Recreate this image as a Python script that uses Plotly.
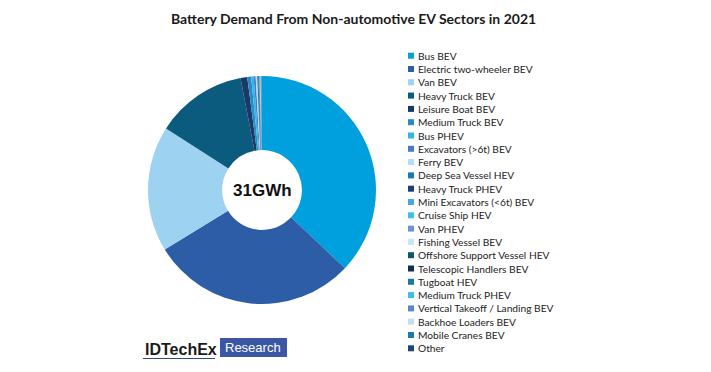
import plotly.graph_objects as go

W, H = 711, 372

labels = ["Bus BEV", "Electric two-wheeler BEV", "Van BEV", "Heavy Truck BEV", "Leisure Boat BEV",
          "Medium Truck BEV", "Bus PHEV", "Excavators (>6t) BEV", "Ferry BEV", "Deep Sea Vessel HEV",
          "Heavy Truck PHEV", "Mini Excavators (<6t) BEV", "Cruise Ship HEV", "Van PHEV",
          "Fishing Vessel BEV", "Offshore Support Vessel HEV", "Telescopic Handlers BEV", "Tugboat HEV",
          "Medium Truck PHEV", "Vertical Takeoff / Landing BEV", "Backhoe Loaders BEV",
          "Mobile Cranes BEV", "Other"]
values = [37.0, 29.2, 17.8, 12.9, 0.95, 0.55, 0.35, 0.28, 0.22, 0.16, 0.11, 0.08, 0.06, 0.05,
          0.04, 0.04, 0.03, 0.03, 0.02, 0.01, 0.01, 0.01, 0.02]
colors = ["#00A0DF", "#2D5DA6", "#9DD2F0", "#0B5B7E", "#1B3968", "#2A8BC0", "#2BB6EC", "#4A7CC6",
          "#B2DDF3", "#1A7BA9", "#203F7A", "#4AA7DD", "#3AC0F0", "#6F93D0", "#C6E5F6", "#0D5470",
          "#112B55", "#1E78A0", "#3ABEEF", "#5B86CC", "#C0DFF2", "#1A7CA6", "#1F4477"]

title_text = "Battery Demand From Non-automotive EV Sectors in 2021"
center_text = "31GWh"

cx, cy, r = 262, 190, 114

fig = go.Figure(go.Pie(
    labels=labels, values=values, sort=False, direction="clockwise", rotation=0,
    hole=0.35, marker=dict(colors=colors, line=dict(width=0)),
    textinfo="none", showlegend=False,
    domain=dict(x=[(cx - r) / W, (cx + r) / W], y=[(H - cy - r) / H, (H - cy + r) / H]),
))

annotations = [
    dict(text=f"<b>{title_text}</b>", x=353 / W, y=1 - 19 / H, xref="paper", yref="paper",
         showarrow=False, font=dict(family="Lato", size=14, color="#1a1a1a"), xanchor="center", yanchor="middle"),
    dict(text=f"<b>{center_text}</b>", x=cx / W, y=1 - cy / H, xref="paper", yref="paper",
         showarrow=False, font=dict(family="Liberation Sans", size=17, color="#111111"), xanchor="center", yanchor="middle"),
    dict(text="<b>IDTechEx</b>", x=143 / W, y=1 - 349 / H, xref="paper", yref="paper",
         showarrow=False, font=dict(family="Liberation Sans", size=16, color="#1a1a1a"), xanchor="left", yanchor="middle"),
    dict(text="Research", x=253.5 / W, y=1 - 347.5 / H, xref="paper", yref="paper",
         showarrow=False, font=dict(family="Liberation Sans", size=13, color="white"), xanchor="center", yanchor="middle"),
]
shapes = [
    dict(type="rect", xref="paper", yref="paper", x0=220 / W, x1=287 / W, y0=1 - 357 / H, y1=1 - 338 / H,
         fillcolor="#3A56A5", line=dict(width=0)),
    dict(type="line", xref="paper", yref="paper", x0=143 / W, x1=215 / W, y0=1 - 358.5 / H, y1=1 - 358.5 / H,
         line=dict(color="#2D4A8F", width=1)),
]

y0, dy = 55.7, 13.3
for i, (lab, col) in enumerate(zip(labels, colors)):
    yy = y0 + i * dy
    shapes.append(dict(type="rect", xref="paper", yref="paper", x0=408 / W, x1=414 / W,
                       y0=1 - (yy + 3) / H, y1=1 - (yy - 3) / H, fillcolor=col, line=dict(width=0)))
    annotations.append(dict(text=lab, x=416 / W, y=1 - yy / H, xref="paper", yref="paper",
                            showarrow=False, font=dict(family="Lato", size=10.2, color="#222222"),
                            xanchor="left", yanchor="middle"))

fig.update_layout(width=W, height=H, margin=dict(l=0, r=0, t=0, b=0),
                  paper_bgcolor="white", plot_bgcolor="white",
                  annotations=annotations, shapes=shapes)

fig.write_html("out.html")
